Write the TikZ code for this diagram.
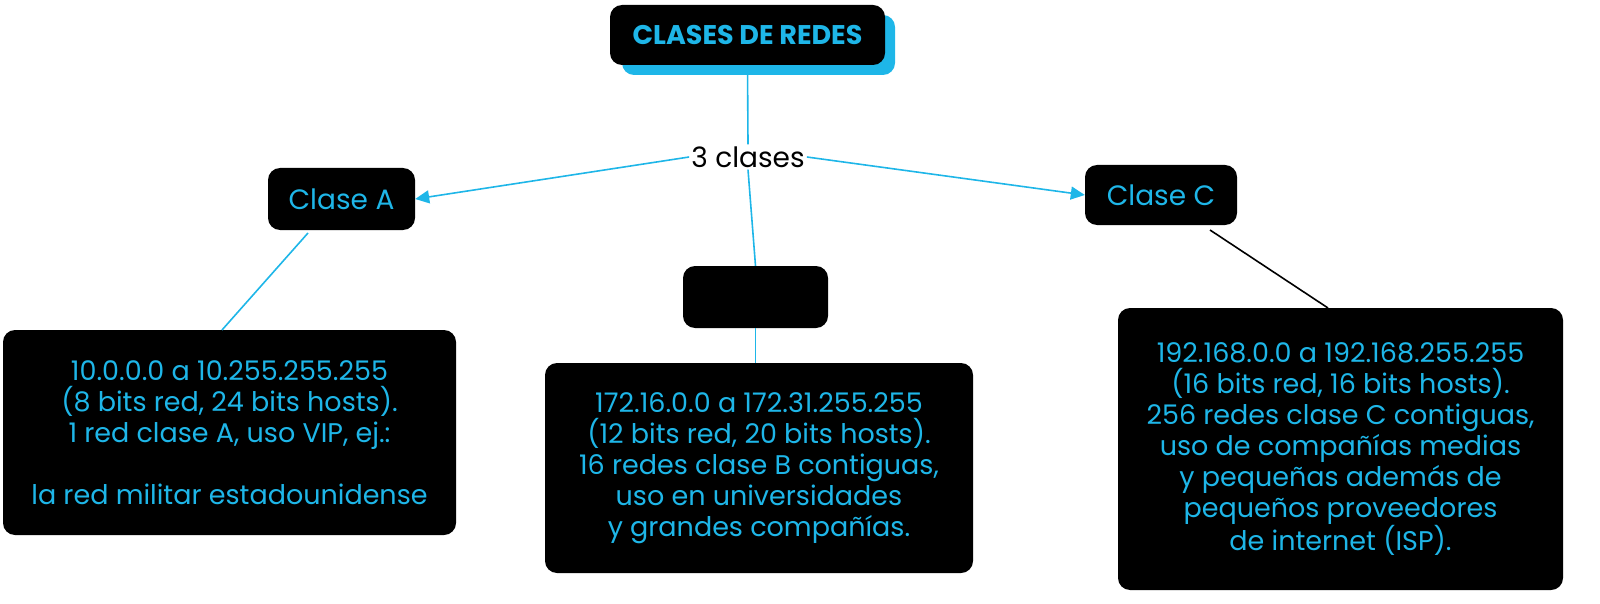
\documentclass[tikz,border=0pt]{standalone}
\usepackage{fontspec}
\setmainfont{Poppins}
\usetikzlibrary{arrows.meta}
\definecolor{cy}{RGB}{30,182,232}
\begin{document}
\begin{tikzpicture}[x=1pt,y=-1pt,
 box/.style={fill=black,rounded corners=12pt,text=cy,font=\fontsize{27}{31}\selectfont,align=center,inner sep=0pt},
 cl/.style={cy,line width=1.6pt},
 arr/.style={cl,-{Triangle[length=14pt,width=13pt]}}]
\useasboundingbox (0,0) rectangle (1600,604);
\fill[cy,rounded corners=12pt] (622,15) rectangle (895,75);
\node[box,minimum width=275pt,minimum height=60pt,font=\fontsize{27}{30}\selectfont\bfseries] (t) at (747.5,35) {CLASES DE REDES};
\node[font=\fontsize{28}{30}\selectfont,inner sep=2pt] (l) at (748,157) {3 clases};
\node[box,minimum width=147pt,minimum height=62pt,font=\fontsize{28}{30}\selectfont] (a) at (341.5,199) {Clase A};
\node[box,minimum width=152pt,minimum height=60pt,font=\fontsize{28}{30}\selectfont] (c) at (1161,195) {Clase C};
\node[box,minimum width=145pt,minimum height=62pt] (b) at (755.5,297) {};
\node[box,minimum width=453pt,minimum height=205pt] (ba) at (229.5,432.5) {10.0.0.0 a 10.255.255.255\\ (8 bits red, 24 bits hosts).\\1 red clase A, uso VIP, ej.:\\ \\la red militar estadounidense};
\node[box,minimum width=428pt,minimum height=210pt] (bb) at (759,468) {172.16.0.0 a 172.31.255.255\\(12 bits red, 20 bits hosts).\\ 16 redes clase B contiguas,\\uso en universidades\\ y grandes compañías.};
\node[box,minimum width=445pt,minimum height=282pt] (bc) at (1340.5,449) {192.168.0.0 a 192.168.255.255\\(16 bits red, 16 bits hosts).\\256 redes clase C contiguas,\\uso de compañías medias\\y pequeñas además de\\pequeños proveedores\\de internet (ISP).};
\draw[cl] (t.south) -- (l.north);
\draw[cl] (l.south) -- (b.north);
\draw[cl] (b.south) -- (bb.north -| b.south);
\draw[arr] (l.west) -- (a.east);
\draw[arr] (l.east) -- (c.west);
\coordinate (a1) at (308,233); \coordinate (a2) at (222,330);
\draw[cl] (a1) -- (a2);
\coordinate (c1) at (1210,230); \coordinate (c2) at (1328,308);
\draw[black,line width=1.6pt] (c1) -- (c2);
\end{tikzpicture}
\end{document}
